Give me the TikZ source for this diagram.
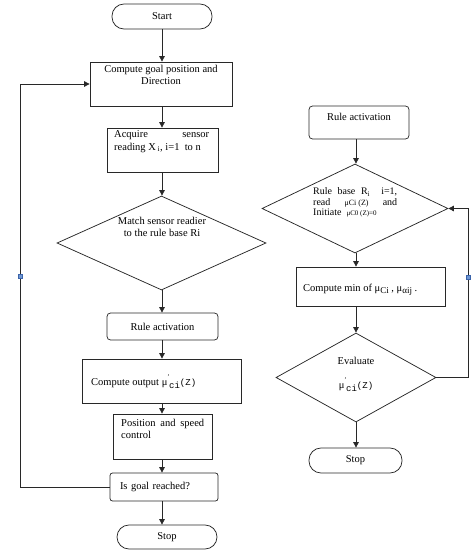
\documentclass[tikz,border=0pt]{standalone}
\usepackage{fontspec}
\setmainfont{Liberation Serif}
\setmonofont{Liberation Mono}
\usetikzlibrary{shapes.geometric,arrows.meta}
\definecolor{linec}{RGB}{40,40,40}
\definecolor{handleb}{RGB}{60,100,170}
\definecolor{handlef}{RGB}{110,150,210}
\newcommand\muciz{μ\rlap{\raisebox{1.3ex}{\scriptsize '}}\,\raisebox{-0.6ex}{\ttfamily\small ci}{\ttfamily\small(Z)}}
\begin{document}
\begin{tikzpicture}[x=1pt,y=-1pt,
  every node/.style={font=\fontsize{10.5}{12.5}\selectfont},
  box/.style={draw=linec, line width=0.75pt, rectangle, inner sep=0pt},
  rbox/.style={box, rounded corners=3.5pt},
  term/.style={box, rounded corners=12pt},
  dia/.style={draw=linec, line width=0.75pt, diamond, inner sep=0pt},
  txt/.style={inner sep=0pt, align=left},
  ln/.style={draw=linec, line width=0.75pt},
  arr/.style={ln, -{Triangle[width=5.5pt,length=5.5pt]}},
  handle/.style={draw=handleb, fill=handlef, line width=0.4pt, minimum size=4.5pt, inner sep=0pt}
]
\useasboundingbox (0,0) rectangle (474,554);
% ---------- left column ----------
\coordinate (cl) at (162,0);
\node[term, minimum width=100pt, minimum height=25pt] (start) at (162,16.5) {Start};
\node[box, minimum width=142pt, minimum height=44pt] (goal) at (161,84) {};
\node[txt, align=center, anchor=north] (goalt) at (161,65) {Compute goal position and\\Direction};
\node[box, minimum width=111pt, minimum height=44pt] (acq) at (162.5,150) {};
\node[txt, anchor=north west] (acqt) at (114,130.5) {\hbox to 95pt{Acquire\hfill sensor}\\reading X\,\textsubscript{i}, i=1\ \ to n};
\node[dia, minimum width=209pt, minimum height=94pt] (match) at (161.5,243) {};
\node[txt, align=center] (matcht) at (162,227) {Match sensor readier\\to the rule base Ri};
\node[rbox, minimum width=111pt, minimum height=27pt] (ract) at (162.5,326.5) {Rule activation};
\node[box, minimum width=159pt, minimum height=44pt] (cout) at (161.5,381) {};
\node[txt, anchor=west] (coutt) at (91,382) {Compute output \muciz};
\node[box, minimum width=99pt, minimum height=45pt] (pos) at (162.5,436.5) {};
\node[txt, anchor=north west] (post) at (121,419) {\hbox to 83pt{Position\hfill and\hfill speed}\\control};
\node[box, rounded corners=2.5pt, minimum width=108pt, minimum height=28pt, text width=88pt, align=left] (isgoal) at (164,487) {Is goal reached?};
\node[term, minimum width=100pt, minimum height=24pt] (stopl) at (167,537) {Stop};
\draw[arr] (start.south -| cl) -- (goal.north -| cl);
\draw[arr] (goal.south -| cl) -- (acq.north -| cl);
\draw[arr] (acq.south -| cl) -- (match.north -| cl);
\draw[arr] (match.south -| cl) -- (ract.north -| cl);
\draw[arr] (ract.south -| cl) -- (cout.north -| cl);
\draw[arr] (cout.south -| cl) -- (pos.north -| cl);
\draw[arr] (pos.south -| cl) -- (isgoal.north -| cl);
\draw[arr] (isgoal.south -| cl) -- (stopl.north -| cl);
% loop back
\coordinate (lx) at (20,0);
\draw[arr] (isgoal.west) -- (isgoal.west -| lx) -- (lx |- goal.west) -- (goal.west);
\node[handle] (hl) at (20,276) {};
% ---------- right column ----------
\coordinate (cr) at (356,0);
\node[rbox, minimum width=100pt, minimum height=33pt] (ract2) at (359,122.5) {};
\node[txt] (ract2t) at (359,117) {Rule activation};
\node[dia, minimum width=186pt, minimum height=89pt] (rbase) at (355,208.5) {};
\node[txt, anchor=north west, font=\fontsize{10}{10.5}\selectfont] (rbaset) at (313,187.5) {\hbox to 84pt{Rule\hfill base\hfill R\textsubscript{i}\hfill\hfill i=1,}\\\hbox to 84pt{read\hfill{\footnotesize μCi (Z)}\hfill and}\\Initiate\ \ {\scriptsize μC0 (Z)=0}};
\node[box, minimum width=149pt, minimum height=39pt] (cmin) at (370.5,286.5) {};
\node[txt, anchor=west] (cmint) at (303,290) {Compute min of μ\raisebox{-2.5pt}{\small Ci}\ , μ\raisebox{-2.5pt}{\small αij}\ .};
\node[dia, minimum width=160pt, minimum height=89pt] (eval) at (356,377.5) {};
\node[txt] (evalt) at (356,361) {Evaluate};
\node[txt] (evalf) at (356,385) {\muciz};
\node[term, minimum width=93pt, minimum height=25pt] (stopr) at (355.5,460.5) {Stop};
\draw[arr] (ract2.south -| cr) -- (rbase.north -| cr);
\draw[arr] (rbase.south -| cr) -- (cmin.north -| cr);
\draw[arr] (cmin.south -| cr) -- (eval.north -| cr);
\draw[arr] (eval.south -| cr) -- (stopr.north -| cr);
% feedback
\coordinate (rx) at (468,0);
\draw[arr] (eval.east) -- (eval.east -| rx) -- (rx |- rbase.east) -- (rbase.east);
\node[handle] (hr) at (468,277) {};
\end{tikzpicture}
\end{document}
